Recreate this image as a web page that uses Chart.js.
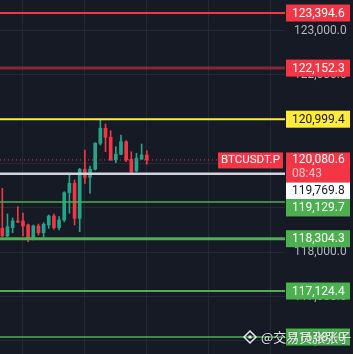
<!DOCTYPE html>
<html>
<head>
<meta charset="utf-8">
<script src="https://cdn.jsdelivr.net/npm/chart.js@4"></script>
<style>
  html, body { margin: 0; padding: 0; background: #161a25; overflow: hidden; }
  #wrap { width: 353px; height: 354px; }
</style>
</head>
<body>
<div id="wrap"><canvas id="c"></canvas></div>
<script>
// candles, oldest first
const opens  = [118539, 118366, 118553, 118704, 118704, 118614, 118327, 118591, 118440, 118614, 118817, 118553, 118726, 119342, 119554, 118765, 119870, 119689, 119870, 120456, 120795, 120592, 120081, 120208, 120492, 120095, 119832, 120102, 120192]
const highs  = [119441, 118862, 118772, 119026, 118884, 118636, 118614, 118636, 118666, 118839, 118862, 118801, 119365, 119741, 119629, 119892, 120305, 119944, 120470, 120997, 120892, 120740, 120380, 120643, 120515, 120267, 120231, 120441, 120289]
const lows   = [118350, 118350, 118440, 118666, 118366, 118237, 118276, 118388, 118336, 118539, 118517, 118501, 118688, 118878, 118614, 118463, 119554, 119329, 119854, 120418, 120267, 120070, 120019, 120200, 120041, 119780, 119816, 120090, 119983]
const closes = [118370, 118575, 118704, 118681, 118591, 118291, 118591, 118440, 118630, 118817, 118553, 118726, 119342, 119554, 118765, 119870, 119689, 119870, 120456, 120795, 120592, 120081, 120208, 120492, 120081, 119816, 120118, 120192, 120080.6]

// horizontal price levels
const levelPrices = [123394.6, 122152.3, 120999.4, 119769.8, 119129.7, 118304.3, 117124.4, 116087.0]
const lastPrice = 120080.6
const symbol = 'BTCUSDT.P'
const countdown = '08:43'

const yTicks = [116000, 117000, 118000, 119000, 120000, 121000, 122000, 123000]
const xTicks = [4, 16, 28, 40, 52]
const watermark = '@交易员张张子'

const UP = '#22a68b'
const DOWN = '#f23645'
const GRID = '#252935'

// line colour, line width, box colour, text colour
const levelStyles = [
  ['#f23645', 2, '#f23645', '#ffffff'],
  ['rgba(242,54,69,0.5)', 3, '#f23645', '#ffffff'],
  ['#ffeb3b', 2, '#ffeb3b', '#131722'],
  ['#d1d4dc', 2.5, '#ffffff', '#131722'],
  ['#4caf50', 1.5, '#4caf50', '#ffffff'],
  ['#4caf50', 3, '#4caf50', '#ffffff'],
  ['#4caf50', 2, '#4caf50', '#ffffff'],
  ['#4caf50', 1.5, '#4caf50', '#ffffff']
]

const fmt = v => v.toLocaleString('en-US', { minimumFractionDigits: 1, maximumFractionDigits: 1 })
const candleColors = opens.map((o, i) => closes[i] >= o ? UP : DOWN)

const levelsPlugin = {
  id: 'levels',
  afterDraw (chart) {
    const { ctx, chartArea } = chart
    const y = chart.scales.y
    const boxL = chartArea.right + 1
    const boxR = 350
    const textX = boxL + 6
    ctx.save()

    // lines
    levelPrices.forEach((p, i) => {
      const py = y.getPixelForValue(p)
      ctx.strokeStyle = levelStyles[i][0]
      ctx.lineWidth = levelStyles[i][1]
      ctx.beginPath()
      ctx.moveTo(chartArea.left, py)
      ctx.lineTo(chartArea.right, py)
      ctx.stroke()
    })

    // last price dotted line
    const lp = y.getPixelForValue(lastPrice)
    ctx.strokeStyle = DOWN
    ctx.lineWidth = 1
    ctx.setLineDash([1, 3])
    ctx.beginPath()
    ctx.moveTo(chartArea.left, lp)
    ctx.lineTo(218, lp)
    ctx.stroke()
    ctx.setLineDash([])

    // symbol tag
    ctx.fillStyle = DOWN
    ctx.fillRect(218, lp - 7.5, 65, 16)
    ctx.fillStyle = '#ffffff'
    ctx.font = '11.5px Roboto'
    ctx.textAlign = 'center'
    ctx.textBaseline = 'middle'
    ctx.fillText(symbol, 250.5, lp + 0.5)

    // axis labels with simple collision handling
    const labels = levelPrices.map((p, i) => ({ py: y.getPixelForValue(p), h: 17, off: 8.5, i }))
    labels.push({ py: lp, h: 30, off: 7.5, i: -1 })
    labels.sort((a, b) => a.py - b.py)
    let prevBottom = -Infinity
    ctx.textAlign = 'left'
    ctx.font = '12px Roboto'
    labels.forEach(l => {
      const top = Math.max(l.py - l.off, prevBottom)
      prevBottom = top + l.h
      if (l.i === -1) {
        ctx.fillStyle = DOWN
        ctx.fillRect(boxL, top, boxR - boxL, l.h)
        ctx.fillStyle = '#ffffff'
        ctx.fillText(fmt(lastPrice), textX, top + 8)
        ctx.fillStyle = 'rgba(255,255,255,0.7)'
        ctx.fillText(countdown, textX, top + 22)
      } else {
        const s = levelStyles[l.i]
        ctx.fillStyle = s[2]
        ctx.fillRect(boxL, top, boxR - boxL, l.h)
        ctx.fillStyle = s[3]
        ctx.fillText(fmt(levelPrices[l.i]), textX, top + l.h / 2 + 0.5)
      }
    })

    // watermark
    const wy = 337
    ctx.strokeStyle = 'rgba(255,255,255,0.9)'
    ctx.lineWidth = 1.5
    ctx.beginPath()
    ctx.moveTo(250, wy - 6); ctx.lineTo(256, wy); ctx.lineTo(250, wy + 6); ctx.lineTo(244, wy); ctx.closePath()
    ctx.stroke()
    ctx.fillStyle = 'rgba(255,255,255,0.9)'
    ctx.fillRect(248.5, wy - 1.5, 3, 3)
    ctx.shadowColor = 'rgba(0,0,0,0.6)'
    ctx.shadowBlur = 2
    ctx.font = '13px "Noto Sans CJK SC"'
    ctx.fillText(watermark, 261, wy)
    ctx.restore()
  }
}

new Chart(document.getElementById('c').getContext('2d'), {
  type: 'bar',
  data: {
    datasets: [
      {
        data: highs.map((h, i) => ({ x: i, y: [lows[i], h] })),
        backgroundColor: candleColors,
        barThickness: 1,
        grouped: false,
        minBarLength: 1
      },
      {
        data: opens.map((o, i) => ({ x: i, y: [o, closes[i]] })),
        backgroundColor: candleColors,
        barThickness: 3,
        grouped: false,
        minBarLength: 1
      }
    ]
  },
  options: {
    responsive: true,
    maintainAspectRatio: false,
    animation: false,
    layout: { padding: 0 },
    plugins: {
      legend: { display: false },
      tooltip: { enabled: false }
    },
    scales: {
      x: {
        type: 'linear',
        offset: false,
        min: -0.45,
        max: 54.79,
        afterBuildTicks: s => { s.ticks = xTicks.map(v => ({ value: v })) },
        afterFit: s => { s.height = 0; s.paddingLeft = 0; s.paddingRight = 0 },
        ticks: { display: false },
        grid: { color: GRID, drawTicks: false, offset: false },
        border: { display: false }
      },
      y: {
        position: 'right',
        min: 115704,
        max: 123688,
        afterBuildTicks: s => { s.ticks = yTicks.map(v => ({ value: v })) },
        afterFit: s => { s.width = 68; s.paddingTop = 0; s.paddingBottom = 0 },
        ticks: {
          color: '#b2b5be',
          font: { family: 'Roboto', size: 12 },
          padding: 9,
          crossAlign: 'near',
          callback: v => fmt(v)
        },
        grid: { color: GRID, drawTicks: false },
        border: { display: false }
      }
    }
  },
  plugins: [levelsPlugin]
})
</script>
</body>
</html>
